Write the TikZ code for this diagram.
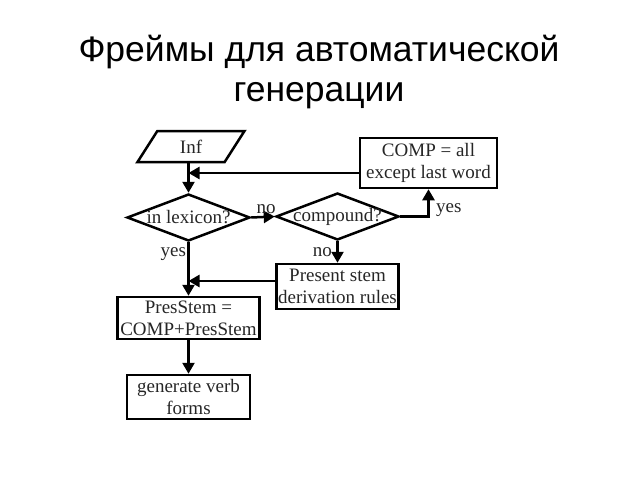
\documentclass[tikz,border=0pt]{standalone}
\usepackage{fontspec}
\setmainfont{Liberation Serif}
\newfontfamily\titlefont{Liberation Sans}
\usetikzlibrary{arrows.meta, shapes.geometric}

\begin{document}
\begin{tikzpicture}[x=1pt, y=-1pt,
    stepbox/.style={draw, line width=2.5pt, inner sep=0pt, align=center,
                    font=\fontsize{19}{22}\selectfont, text=black!85},
    decide/.style={draw, diamond, line width=2.5pt, inner sep=0pt,
                   minimum width=123pt, minimum height=47pt,
                   font=\fontsize{19}{22}\selectfont, text=black!85},
    inbox/.style={draw, trapezium, trapezium left angle=64, trapezium right angle=116,
                  trapezium stretches=true, line width=2.5pt, inner sep=0pt,
                  minimum width=107pt, minimum height=31pt,
                  font=\fontsize{19}{22}\selectfont, text=black!85},
    arr/.style={-{Triangle[length=11pt, width=12pt]}, line width=2.5pt},
    edgelbl/.style={font=\fontsize{19}{22}\selectfont, text=black!85},
]
\useasboundingbox (0,0) rectangle (638,479);

% Title
\node[font=\titlefont\fontsize{35.5}{40}\selectfont, align=center] (title) at (319,72)
  {Фреймы для автоматической\\генерации};

% Input and decisions
\node[inbox] (inf) at (191,146.5) {Inf};
\node[decide] (lex) at (188.5,217.5) {\makebox[0pt]{in lexicon?}};
\node[decide] (cmpd) at (337.5,216.5) {\makebox[0pt]{compound?}};

% Boxes
\node[stepbox, minimum width=137pt, minimum height=50pt] (comp) at (428.5,163) {COMP = all\\except last word};
\node[stepbox, minimum width=122pt, minimum height=45pt] (stem) at (337.5,286.5) {Present stem\\derivation rules};
\node[stepbox, minimum width=142pt, minimum height=42pt] (pres) at (188.5,318) {PresStem =\\COMP+PresStem};
\node[stepbox, minimum width=123pt, minimum height=44pt] (gen) at (188.5,397) {generate verb\\forms};

% Merge points
\coordinate (back1) at (188.5,173);
\coordinate (back2) at (188.5,281);

% Arrows
\draw[arr] (lex.north |- inf.south) -- (lex.north);
\draw[arr] (comp.west |- back1) -- (back1);
\draw[arr] (lex.east) -- (cmpd.west)
  node[edgelbl, midway, above, xshift=3pt, yshift=-1pt] {no};
\draw[arr] (cmpd.east) -| (comp.south)
  node[edgelbl, pos=0.62, right, xshift=3pt] {yes};
\draw[arr] (cmpd.south) -- (stem.north)
  node[edgelbl, midway, left, xshift=-1pt] {no};
\draw[arr] (lex.south) -- (pres.north)
  node[edgelbl, pos=0.22, left, xshift=2pt] {yes};
\draw[arr] (stem.west |- back2) -- (back2);
\draw[arr] (pres.south) -- (gen.north);
\end{tikzpicture}
\end{document}
